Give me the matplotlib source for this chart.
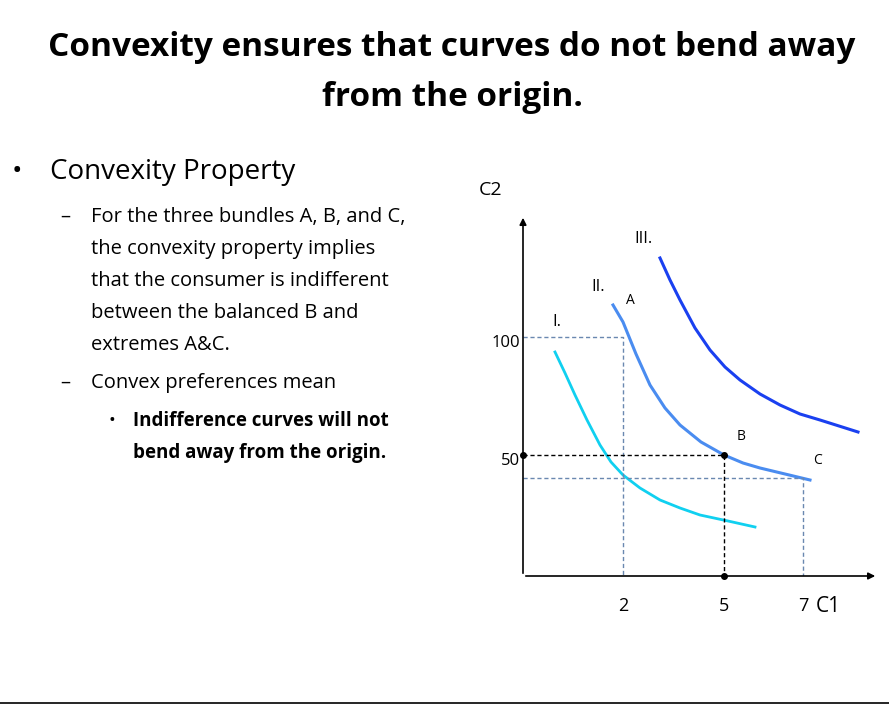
import matplotlib
matplotlib.use("Agg")
import matplotlib.pyplot as plt

plt.rcParams['font.family'] = ['Open Sans', 'DejaVu Sans']

# Curve data in chart units (origin at axes corner)
c1_I = [32, 42, 52, 64, 77, 88, 100, 117, 137, 157, 177, 205, 232]
c2_I = [224, 203, 181, 156, 131, 114, 101, 88, 76, 68, 61, 55, 49]
c1_II = [90, 100, 113, 127, 142, 157, 178, 201, 220, 237, 262, 287]
c2_II = [271, 254, 222, 191, 168, 151, 134, 121, 113, 108, 102, 96]
c1_III = [137, 147, 157, 172, 187, 202, 217, 237, 257, 277, 297, 335]
c2_III = [318, 296, 276, 248, 226, 209, 196, 182, 171, 162, 156, 144]
tick_pos = [100, 201, 280]
tick_labels = ["2", "5", "7"]
ylab_pos = [239, 121]
ylab_text = ["100", "50"]
W, H = 889, 705

fig = plt.figure(figsize=(W/100, H/100), dpi=100)
bg = fig.add_axes([0, 0, 1, 1]); bg.set_xlim(0, W); bg.set_ylim(H, 0); bg.axis('off')
bg.text(452, 47, "Convexity ensures that curves do not bend away", ha='center', va='center', fontsize=24, fontweight='bold')
bg.text(452, 97, "from the origin.", ha='center', va='center', fontsize=24, fontweight='bold')
bg.text(12, 172, "•", fontsize=20, va='center')
bg.text(50, 172, "Convexity Property", fontsize=20, va='center')
lines = ["For the three bundles A, B, and C,", "the convexity property implies", "that the consumer is indifferent",
         "between the balanced B and", "extremes A&C."]
bg.text(60, 217, "–", fontsize=14.5, va='center')
for i, s in enumerate(lines):
    bg.text(91, 217 + 32*i, s, fontsize=14.5, va='center')
bg.text(60, 383, "–", fontsize=14.5, va='center')
bg.text(91, 383, "Convex preferences mean", fontsize=14.5, va='center')
bg.text(108, 421, "•", fontsize=13, va='center')
bg.text(133, 421, "Indifference curves will not", fontsize=13.5, va='center', fontweight='bold')
bg.text(133, 453, "bend away from the origin.", fontsize=13.5, va='center', fontweight='bold')
bg.plot([0, W], [703, 703], color='black', lw=1.2)

x0, y0 = 523, 576
ax = fig.add_axes([x0/W, (H-y0)/H, 360/W, 370/H])
ax.set_xlim(0, 360); ax.set_ylim(0, 370); ax.axis('off')
ax.annotate("", xy=(355, 0), xytext=(0, 0), arrowprops=dict(arrowstyle='-|>', color='black', lw=1.2, mutation_scale=10))
ax.annotate("", xy=(0, 361), xytext=(0, 0), arrowprops=dict(arrowstyle='-|>', color='black', lw=1.2, mutation_scale=10))
ax.plot(c1_I, c2_I, color='#10d0f0', lw=2)
ax.plot(c1_II, c2_II, color='#4a8cf0', lw=2.2)
ax.plot(c1_III, c2_III, color='#1a40f0', lw=2.2)
gb = '#6a88b0'
ax.plot([0, 100, 100], [239, 239, 0], ls=(0, (3, 2)), color=gb, lw=1)
ax.plot([0, 280, 280], [98, 98, 0], ls=(0, (3, 2)), color=gb, lw=1)
ax.plot([0, 201, 201], [121, 121, 0], ls=(0, (3, 2)), color='black', lw=1)
ax.plot([0, 201, 201], [121, 121, 0], 'o', color='black', ms=4, ls='none', clip_on=False)
for p, t in zip(tick_pos, tick_labels):
    ax.text(p, -30, t, ha='center', va='center', fontsize=13)
ax.text(305, -30, "C1", ha='center', va='center', fontsize=15)
for p, t in zip(ylab_pos, ylab_text):
    ax.text(-3, p-6, t, ha='right', va='center', fontsize=12)
ax.text(-32, 386, "C2", ha='center', va='center', fontsize=14)
ax.text(34, 254, "I.", ha='center', va='center', fontsize=12)
ax.text(75, 289, "II.", ha='center', va='center', fontsize=12)
ax.text(120, 337, "III.", ha='center', va='center', fontsize=12)
ax.text(107, 276, "A", ha='center', va='center', fontsize=10)
ax.text(218, 140, "B", ha='center', va='center', fontsize=10)
ax.text(294, 116, "C", ha='center', va='center', fontsize=10)
fig.savefig("out.png", dpi=100)
